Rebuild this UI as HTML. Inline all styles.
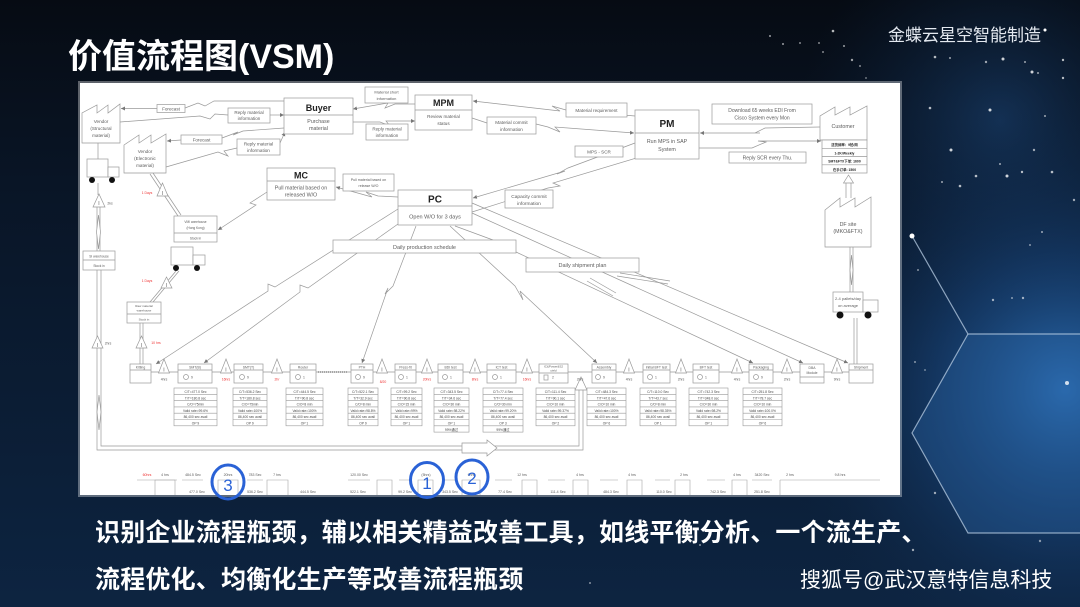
<!DOCTYPE html>
<html><head><meta charset="utf-8">
<style>
html,body{margin:0;padding:0;width:1080px;height:607px;overflow:hidden;background:#0b1a2e;}
svg{display:block}
.t{font-family:"Liberation Sans",sans-serif;fill:#5c5c5c;text-anchor:middle;}
.r{fill:#e33;}
</style></head><body>
<svg width="1080" height="607" viewBox="0 0 1080 607" xmlns="http://www.w3.org/2000/svg">
<defs>
 <linearGradient id="bg" x1="0" y1="0" x2="0" y2="1">
  <stop offset="0" stop-color="#060b13"/>
  <stop offset="0.3" stop-color="#091526"/>
  <stop offset="1" stop-color="#0d2441"/>
 </linearGradient>
 <radialGradient id="glow" cx="1065" cy="390" r="290" gradientUnits="userSpaceOnUse">
  <stop offset="0" stop-color="#2c70b8" stop-opacity="0.95"/>
  <stop offset="0.45" stop-color="#1a4a84" stop-opacity="0.55"/>
  <stop offset="1" stop-color="#0d2441" stop-opacity="0"/>
 </radialGradient>
 <radialGradient id="glow2" cx="1000" cy="120" r="200" gradientUnits="userSpaceOnUse">
  <stop offset="0" stop-color="#1b4577" stop-opacity="0.6"/>
  <stop offset="1" stop-color="#0d2441" stop-opacity="0"/>
 </radialGradient>
 <marker id="a" viewBox="0 0 6 6" refX="6" refY="3" markerWidth="4" markerHeight="4" orient="auto" markerUnits="userSpaceOnUse"><path d="M0,0 L6,3 L0,6 Z" fill="#777"/></marker>
</defs>
<rect width="1080" height="607" fill="url(#bg)"/>
<rect width="1080" height="607" fill="url(#glow2)"/>
<rect width="1080" height="607" fill="url(#glow)"/>

<!-- hexagon -->
<polygon points="968,334 1080,334 1080,533 968,533 912,433" fill="#2a64a3" fill-opacity="0.35"/>
<polyline points="912,236 968,334 1080,334" fill="none" stroke="#b8cde4" stroke-opacity="0.75" stroke-width="1.2"/>
<polyline points="968,334 912,433 968,533 1080,533" fill="none" stroke="#b8cde4" stroke-opacity="0.75" stroke-width="1.2"/>
<circle cx="912" cy="236" r="2.5" fill="#fff"/>

<!-- stars -->
<g fill="#fff">
<circle cx="770" cy="36" r="1" opacity=".6"/><circle cx="783" cy="44" r="1" opacity=".6"/><circle cx="800" cy="43" r="1" opacity=".5"/>
<circle cx="819" cy="43" r="1" opacity=".5"/><circle cx="833" cy="31" r="1.3" opacity=".7"/><circle cx="844" cy="46" r="1" opacity=".6"/>
<circle cx="823" cy="52" r="1" opacity=".5"/><circle cx="852" cy="60" r="1.2" opacity=".6"/><circle cx="860" cy="66" r="1" opacity=".5"/>
<circle cx="866" cy="78" r="1" opacity=".4"/><circle cx="1045" cy="30" r="1.3" opacity=".8"/><circle cx="935" cy="57" r="1.3" opacity=".7"/>
<circle cx="950" cy="58" r="1" opacity=".6"/><circle cx="986" cy="62" r="1.2" opacity=".6"/><circle cx="1003" cy="59" r="1.5" opacity=".8"/>
<circle cx="1025" cy="62" r="1" opacity=".6"/><circle cx="1063" cy="60" r="1.2" opacity=".7"/><circle cx="1032" cy="72" r="1.5" opacity=".8"/>
<circle cx="1063" cy="78" r="1.2" opacity=".7"/><circle cx="1038" cy="73" r="1" opacity=".6"/><circle cx="930" cy="108" r="1.3" opacity=".7"/>
<circle cx="990" cy="110" r="1.5" opacity=".8"/><circle cx="1045" cy="116" r="1" opacity=".6"/><circle cx="951" cy="150" r="1.5" opacity=".8"/>
<circle cx="1034" cy="150" r="1.2" opacity=".6"/><circle cx="976" cy="176" r="1.3" opacity=".7"/><circle cx="1007" cy="176" r="1.5" opacity=".8"/>
<circle cx="1022" cy="172" r="1.2" opacity=".7"/><circle cx="1000" cy="164" r="1" opacity=".6"/><circle cx="942" cy="182" r="1" opacity=".6"/>
<circle cx="960" cy="186" r="1.3" opacity=".7"/><circle cx="1052" cy="172" r="1.3" opacity=".7"/><circle cx="1074" cy="200" r="1.2" opacity=".6"/>
<circle cx="1042" cy="232" r="1" opacity=".6"/><circle cx="1030" cy="245" r="1" opacity=".5"/><circle cx="1023" cy="298" r="1.2" opacity=".6"/>
<circle cx="993" cy="300" r="1.2" opacity=".6"/><circle cx="1012" cy="298" r="1" opacity=".5"/><circle cx="1067" cy="383" r="2" opacity=".8"/>
<circle cx="918" cy="270" r="1" opacity=".5"/><circle cx="915" cy="362" r="1" opacity=".5"/><circle cx="925" cy="370" r="1" opacity=".4"/>
<circle cx="935" cy="493" r="1.2" opacity=".6"/><circle cx="1040" cy="541" r="1.2" opacity=".5"/><circle cx="913" cy="550" r="1.2" opacity=".6"/>
<circle cx="590" cy="583" r="1" opacity=".5"/><circle cx="700" cy="545" r="1" opacity=".5"/><circle cx="960" cy="590" r="1" opacity=".5"/>
</g>

<!-- headings -->
<text x="68" y="68" font-family="'Liberation Sans','Noto Sans CJK SC',sans-serif" font-size="34" font-weight="700" fill="#fff">价值流程图(VSM)</text>
<text x="888" y="41" font-family="'Liberation Sans','Noto Sans CJK SC',sans-serif" font-size="17" fill="#e4e9f0">金蝶云星空智能制造</text>
<circle cx="1045" cy="30" r="1.5" fill="#fff"/>

<!-- panel -->
<rect x="78" y="81" width="824" height="416" fill="#fff" opacity="0.35"/>
<rect x="80" y="83" width="820" height="412" fill="#fff"/>

<g stroke="#999" stroke-width="0.7" fill="none">
 <!-- top-left connectors -->
 <line x1="157" y1="108.5" x2="121" y2="108.5" marker-end="url(#a)"/>
 <polyline points="284,101 214,101 205,106 198,103 185,108"/>
 <polyline points="120,122 200,116 210,119 215,114 228,115"/>
 <line x1="270" y1="115" x2="284" y2="115" marker-end="url(#a)"/>
 <polyline points="415,104 395,104 385,108 388,103 353,109" marker-end="url(#a)"/>
 <polyline points="353,122 380,122 390,126 386,121 415,121" marker-end="url(#a)"/>
 <line x1="181" y1="140" x2="167" y2="141" marker-end="url(#a)"/>
 <polyline points="284,128 243,131 233,135 238,132 222,138"/>
 <polyline points="166,167 218,152 228,156 224,151 237,148"/>
 <line x1="280" y1="143" x2="285" y2="132" marker-end="url(#a)"/>
 <!-- MC / PC -->
 <polyline points="267,192 250,203 256,205 218,230" marker-end="url(#a)"/>
 <polyline points="398,197 378,196 366,192 372,197 336,187" marker-end="url(#a)"/>
 <!-- MPM - PM -->
 <polyline points="635,116 566,110 552,106 560,111 473,101" marker-end="url(#a)"/>
 <line x1="472" y1="118" x2="487" y2="123"/>
 <polyline points="536,124 548,127 560,132 555,127 634,133" marker-end="url(#a)"/>
 <polyline points="635,143 568,168 557,174 565,171 473,198" marker-end="url(#a)"/>
 <polyline points="472,212 548,188 560,186 553,183 643,156" marker-end="url(#a)"/>
 <!-- PM - customer -->
 <polyline points="820,127 765,128 755,133 760,133 700,133" marker-end="url(#a)"/>
 <polyline points="699,148 752,148 766,142 758,141 821,141" marker-end="url(#a)"/>
 <!-- DF to customer -->
 <line x1="846" y1="198" x2="846" y2="182"/><line x1="851" y1="198" x2="851" y2="182"/>
 <polygon points="848.5,175 843.5,183 853.5,183" fill="#fff"/>
 <line x1="850" y1="247" x2="850" y2="292"/><line x1="853" y1="247" x2="853" y2="292"/>
 <polygon points="851.5,255 853,270 851.5,285 850,270" fill="#fff"/>
 <line x1="854" y1="318" x2="854" y2="364"/><line x1="857" y1="318" x2="857" y2="364"/>

 <!-- PC fan lines -->
 <polyline points="398,209 275,287 268,284 268,291 156,364" marker-end="url(#a)"/>
 <polyline points="398,224 308,288 300,285 300,292 204,363" marker-end="url(#a)"/>
 <polyline points="416,226 393,286 385,294 388,288 362,363" marker-end="url(#a)"/>
 <polyline points="450,226 515,286 523,300 520,291 597,363" marker-end="url(#a)"/>
 <line x1="472" y1="203" x2="848" y2="363" marker-end="url(#a)"/>
 <line x1="472" y1="213" x2="803" y2="363" marker-end="url(#a)"/>
 <line x1="516" y1="252" x2="753" y2="363" marker-end="url(#a)"/>
 <line x1="455" y1="226" x2="493" y2="240"/>
 <polyline points="587,281 613,296"/><polyline points="590,278 616,293"/>
 <polyline points="617,276 668,284"/><polyline points="620,273 670,281"/>

 <!-- left vertical chain -->
 <line x1="98" y1="143" x2="98" y2="159"/>
 <line x1="98" y1="183" x2="98" y2="195"/>
 <line x1="97" y1="207" x2="97" y2="251"/><line x1="100" y1="207" x2="100" y2="251"/>
 <polygon points="98.5,215 100.5,232 98.5,249 96.5,232" fill="#fff"/>
 <!-- big loop -->
 <polyline points="97,270 97,450 583,450 583,390"/>
 <polyline points="101,270 101,446 579,446 579,390"/>
 <polygon points="99,395 101,412 99,430 97,412" fill="#fff"/>
 <polygon points="581,377 575,390 587,390" fill="#fff"/>
 <polygon points="462,443 487,443 487,440 497,448 487,456 487,453 462,453" fill="#fff"/>
 <!-- vendor2 to VMI -->
 <line x1="150" y1="174" x2="178" y2="216"/><line x1="153" y1="173" x2="181" y2="215"/>
 <line x1="176" y1="271" x2="150" y2="302"/><line x1="179" y1="271" x2="153" y2="302"/>
 <line x1="140" y1="323" x2="140" y2="364"/><line x1="143" y1="323" x2="143" y2="364"/>

 <!-- process flow line -->
 <line x1="151" y1="372" x2="849" y2="372"/>
</g>

<!-- boxes top-left -->
<g stroke="#999" stroke-width="0.7" fill="#fff">
 <path d="M82,143V113L97,105V113L108,105V113L120,104V143Z"/>
 <rect x="157" y="104.5" width="28" height="8"/>
 <rect x="228" y="108" width="42" height="15"/>
 <rect x="284" y="98" width="69" height="36"/><line x1="284" y1="115" x2="353" y2="115"/>
 <rect x="365" y="87" width="43" height="16"/>
 <rect x="366" y="124" width="42" height="16"/>
 <rect x="415" y="95" width="57" height="35"/><line x1="415" y1="110" x2="472" y2="110"/>
 <path d="M124,173V145L139,135V143L151,135V143L166,134V173Z"/>
 <rect x="181" y="135" width="41" height="9"/>
 <rect x="237" y="139" width="43" height="16"/>
 <rect x="87" y="159" width="21" height="18"/><rect x="108" y="167" width="11" height="10"/>
 <polygon points="99,194 93,207 105,207"/>
 <rect x="83" y="251" width="32" height="19"/><line x1="83" y1="260" x2="115" y2="260"/>
 <polygon points="97.5,336 92,348 103,348"/>
 <polygon points="162.5,183 157,196 168,196"/>
 <rect x="174" y="216" width="43" height="26"/><line x1="174" y1="233" x2="217" y2="233"/>
 <rect x="171" y="247" width="22" height="18"/><rect x="193" y="255" width="12" height="10"/>
 <polygon points="166.5,277 161,288 172,288"/>
 <rect x="127" y="302" width="34" height="21"/><line x1="127" y1="314" x2="161" y2="314"/>
 <polygon points="141.5,336 136,348 147,348"/>
 <rect x="267" y="168" width="68" height="32"/><line x1="267" y1="181" x2="335" y2="181"/>
 <rect x="343" y="174" width="51" height="17"/>
 <rect x="398" y="190" width="74" height="35"/><line x1="398" y1="206" x2="472" y2="206"/>
 <rect x="333" y="240" width="183" height="13"/>
 <rect x="526" y="258" width="113" height="14"/>
 <rect x="505" y="190" width="48" height="18"/>
 <rect x="566" y="103" width="61" height="14"/>
 <rect x="487" y="117" width="49" height="17"/>
 <rect x="635" y="110" width="64" height="49"/><line x1="635" y1="133" x2="699" y2="133"/>
 <rect x="575" y="146" width="48" height="11"/>
 <rect x="712" y="104" width="100" height="20"/>
 <rect x="729" y="152" width="77" height="11"/>
 <path d="M820,140V116L835,107V115L850,107V115L867,106V140Z"/>
 <rect x="822" y="140" width="45" height="33"/>
 <line x1="822" y1="148.3" x2="867" y2="148.3"/><line x1="822" y1="156.5" x2="867" y2="156.5"/><line x1="822" y1="164.8" x2="867" y2="164.8"/>
 <path d="M825,247V210L840,198V207L855,198V207L871,197V247Z"/>
 <rect x="833" y="292" width="30" height="20"/><rect x="863" y="300" width="15" height="12"/>
</g>
<g fill="#111">
 <circle cx="92" cy="180" r="3"/><circle cx="112" cy="180" r="3"/>
 <circle cx="176" cy="268" r="3"/><circle cx="197" cy="268" r="3"/>
 <circle cx="840" cy="315" r="3.5"/><circle cx="868" cy="315" r="3.5"/>
</g>

<!-- top texts -->
<g class="t" font-size="4.6">
 <text x="101" y="123">Vendor</text><text x="101" y="130">(Structural</text><text x="101" y="137">material)</text>
 <text x="171" y="110.5">Forecast</text>
 <text x="249" y="114">Reply material</text><text x="249" y="120">information</text>
 <text x="386.5" y="93.5" font-size="4">Material short</text><text x="386.5" y="100" font-size="4">information</text>
 <text x="387" y="130.5">Reply material</text><text x="387" y="137">information</text>
 <text x="145" y="153">Vendor</text><text x="145" y="160">(Electronic</text><text x="145" y="167">material)</text>
 <text x="201.5" y="141.5">Forecast</text>
 <text x="258.5" y="145.5">Reply material</text><text x="258.5" y="152">information</text>
 <text x="99" y="257.5" font-size="3.2">SI warehouse</text><text x="99" y="267" font-size="3.2">Stock in</text>
 <text x="195.5" y="223" font-size="3.2">VMI warehouse</text><text x="195.5" y="229" font-size="3.2">(Hong Kong)</text><text x="195.5" y="239.5" font-size="3.2">Stock in</text>
 <text x="144" y="307" font-size="3">Raw material</text><text x="144" y="311.5" font-size="3">warehouse</text><text x="144" y="320.5" font-size="3">Stock in</text>
 <text x="368.5" y="181" font-size="3.6">Pull material based on</text><text x="368.5" y="187" font-size="3.6">release W/O</text>
 <text x="301" y="189.5" font-size="5.3">Pull material based on</text><text x="301" y="196.5" font-size="5.3">released W/O</text>
 <text x="435" y="218.5" font-size="5.5">Open W/O for 3 days</text>
 <text x="424.5" y="249" font-size="5.5">Daily production schedule</text>
 <text x="582.5" y="267" font-size="5.5">Daily shipment plan</text>
 <text x="529" y="198" font-size="4.8">Capacity commit</text><text x="529" y="205" font-size="4.8">information</text>
 <text x="596.5" y="112">Material requirement</text>
 <text x="511.5" y="124">Material commit</text><text x="511.5" y="131">information</text>
 <text x="443.5" y="118">Review material</text><text x="443.5" y="125">status</text>
 <text x="318.5" y="123" font-size="5.3">Purchase</text><text x="318.5" y="130" font-size="5.3">material</text>
 <text x="667" y="143" font-size="5.3">Run MPS in SAP</text><text x="667" y="151" font-size="5.3">System</text>
 <text x="599" y="153.5">MPS - SCR</text>
 <text x="762" y="112" font-size="5">Download 65 weeks EDI From</text><text x="762" y="119.5" font-size="5">Cisco System every Mon</text>
 <text x="767.5" y="159.5" font-size="5">Reply SCR every Thu.</text>
 <text x="843" y="128" font-size="5.3">Customer</text>
 <text x="848" y="226" font-size="5.3">DF site</text><text x="848" y="233" font-size="5.3">(MKO&amp;FTX)</text>
 <text x="848" y="300" font-size="4">2-4 pallets/day</text><text x="848" y="307" font-size="4">on average</text>
 <text x="110" y="204.5" font-size="3.4">2ks</text>
 <text x="108" y="344.5" font-size="3.4">2hrs</text>
 <text x="147" y="194" font-size="3.4" class="t r">1 Days</text>
 <text x="147" y="282" font-size="3.4" class="t r">1 Days</text>
 <text x="156" y="344" font-size="3.4" class="t r">10 hrs</text>
</g>
<g class="t" font-size="3.4" font-weight="700" style="fill:#222;font-family:'Liberation Sans','Noto Sans CJK SC',sans-serif">
 <text x="844.5" y="146">送货频率：9拍/周</text>
 <text x="844.5" y="154.3">1-2K/Weekly</text>
 <text x="844.5" y="162.5">SMT&amp;FTX下单: 1600</text>
 <text x="844.5" y="170.8">在手订单: 1500</text>
</g>
<g class="t" font-weight="700" style="fill:#222">
 <text x="318.5" y="111" font-size="9">Buyer</text>
 <text x="443.5" y="106" font-size="9">MPM</text>
 <text x="301" y="178.5" font-size="9">MC</text>
 <text x="435" y="202.5" font-size="10">PC</text>
 <text x="667" y="127" font-size="10">PM</text>
</g>
<g class="t" font-size="5"><text x="99" y="205">I</text><text x="97.5" y="347">I</text><text x="162.5" y="195">I</text><text x="166.5" y="287">I</text><text x="141.5" y="347">I</text></g>

<!-- process boxes -->
<g stroke="#999" stroke-width="0.7" fill="#fff">
 <rect x="130" y="364" width="21" height="19"/><line x1="130" y1="370" x2="151" y2="370"/>
 <rect x="178" y="364" width="34" height="19"/><line x1="178" y1="370" x2="212" y2="370"/>
 <rect x="234" y="364" width="29" height="19"/><line x1="234" y1="370" x2="263" y2="370"/>
 <rect x="290" y="364" width="26" height="19"/><line x1="290" y1="370" x2="316" y2="370"/>
 <rect x="351" y="364" width="22" height="19"/><line x1="351" y1="370" x2="373" y2="370"/>
 <rect x="395" y="364" width="21" height="19"/><line x1="395" y1="370" x2="416" y2="370"/>
 <rect x="438" y="364" width="25" height="19"/><line x1="438" y1="370" x2="463" y2="370"/>
 <rect x="487" y="364" width="29" height="19"/><line x1="487" y1="370" x2="516" y2="370"/>
 <rect x="539" y="364" width="29" height="19"/><line x1="539" y1="373" x2="568" y2="373"/>
 <rect x="592" y="364" width="24" height="19"/><line x1="592" y1="370" x2="616" y2="370"/>
 <rect x="643" y="364" width="27" height="19"/><line x1="643" y1="370" x2="670" y2="370"/>
 <rect x="693" y="364" width="26" height="19"/><line x1="693" y1="370" x2="719" y2="370"/>
 <rect x="749" y="364" width="24" height="19"/><line x1="749" y1="370" x2="773" y2="370"/>
 <rect x="800" y="364" width="24" height="19"/><line x1="800" y1="377" x2="824" y2="377"/>
 <rect x="849" y="364" width="24" height="19"/><line x1="849" y1="370" x2="873" y2="370"/>
 <circle cx="186" cy="377" r="2.5"/><circle cx="242" cy="377" r="2.5"/><circle cx="298" cy="377" r="2.5"/>
 <circle cx="358" cy="377" r="2.5"/><circle cx="401" cy="377" r="2.5"/><circle cx="445" cy="377" r="2.5"/>
 <circle cx="495" cy="377" r="2.5"/><rect x="544" y="375" width="4" height="5"/><circle cx="598" cy="377" r="2.5"/>
 <circle cx="650" cy="377" r="2.5"/><circle cx="700" cy="377" r="2.5"/><circle cx="756" cy="377" r="2.5"/>
 <polygon points="164,359 158.5,373 169.5,373"/><polygon points="226,359 220.5,373 231.5,373"/>
 <polygon points="277,359 271.5,373 282.5,373"/><polygon points="382,359 376.5,373 387.5,373"/>
 <polygon points="427,359 421.5,373 432.5,373"/><polygon points="475,359 469.5,373 480.5,373"/>
 <polygon points="527,359 521.5,373 532.5,373"/><polygon points="629,359 623.5,373 634.5,373"/>
 <polygon points="681,359 675.5,373 686.5,373"/><polygon points="737,359 731.5,373 742.5,373"/>
 <polygon points="787,359 781.5,373 792.5,373"/><polygon points="837,359 831.5,373 842.5,373"/>
</g>
<line x1="318" y1="372" x2="348" y2="372" stroke="#888" stroke-width="1.5" stroke-dasharray="1,1"/>
<g class="t" font-size="3.4">
 <text x="140.5" y="368.5">Kitting</text><text x="195" y="368.5">SMT(B)</text><text x="248.5" y="368.5">SMT(T)</text>
 <text x="303" y="368.5">Router</text><text x="362" y="368.5">PTH</text><text x="405.5" y="368.5">Press-fit</text>
 <text x="450.5" y="368.5">BDI test</text><text x="501.5" y="368.5">ICT test</text>
 <text x="553.5" y="367.5" font-size="3">IC&amp;Power&amp;S2</text><text x="553.5" y="371.5" font-size="3">yield</text>
 <text x="604" y="368.5">Assembly</text><text x="656.5" y="368.5">Initial BFT test</text><text x="706" y="368.5">BFT test</text>
 <text x="761" y="368.5">Packaging</text><text x="812" y="369">DBA</text><text x="812" y="374">Module</text><text x="861" y="368.5">Shipment</text>
 <text x="192" y="378.5">9</text><text x="248" y="378.5">9</text><text x="304" y="378.5">1</text><text x="364" y="378.5">9</text>
 <text x="407" y="378.5">1</text><text x="451" y="378.5">1</text><text x="501" y="378.5">1</text><text x="553" y="378.5">2</text>
 <text x="604" y="378.5">9</text><text x="656" y="378.5">1</text><text x="706" y="378.5">1</text><text x="762" y="378.5">9</text>
 <text x="164" y="371.5" font-size="5">I</text><text x="226" y="371.5" font-size="5">I</text><text x="277" y="371.5" font-size="5">I</text>
 <text x="382" y="371.5" font-size="5">I</text><text x="427" y="371.5" font-size="5">I</text><text x="475" y="371.5" font-size="5">I</text>
 <text x="527" y="371.5" font-size="5">I</text><text x="629" y="371.5" font-size="5">I</text><text x="681" y="371.5" font-size="5">I</text>
 <text x="737" y="371.5" font-size="5">I</text><text x="787" y="371.5" font-size="5">I</text><text x="837" y="371.5" font-size="5">I</text>
 <text x="164" y="380.5">4hrs</text><text x="226" y="380.5" class="t r">16hrs</text><text x="277" y="380.5" class="t r">2hr</text>
 <text x="383" y="383" class="t r">8/20</text><text x="427" y="380.5" class="t r">20hrs</text><text x="475" y="380.5" class="t r">8hrs</text>
 <text x="527" y="380.5" class="t r">16hrs</text><text x="580" y="380.5">2hrs</text><text x="629" y="380.5">4hrs</text>
 <text x="681" y="380.5">2hrs</text><text x="737" y="380.5">4hrs</text><text x="787" y="380.5">2hrs</text><text x="837" y="380.5">9hrs</text>
</g>

<!-- data boxes -->
<g stroke="#999" stroke-width="0.6" fill="#fff">
 <rect x="174" y="388" width="43" height="37.8"/><path d="M174,394.3H217M174,400.6H217M174,406.9H217M174,413.2H217M174,419.5H217"/>
 <rect x="233" y="388" width="34" height="37.8"/><path d="M233,394.3H267M233,400.6H267M233,406.9H267M233,413.2H267M233,419.5H267"/>
 <rect x="286" y="388" width="37" height="37.8"/><path d="M286,394.3H323M286,400.6H323M286,406.9H323M286,413.2H323M286,419.5H323"/>
 <rect x="348" y="388" width="30" height="37.8"/><path d="M348,394.3H378M348,400.6H378M348,406.9H378M348,413.2H378M348,419.5H378"/>
 <rect x="391" y="388" width="31" height="37.8"/><path d="M391,394.3H422M391,400.6H422M391,406.9H422M391,413.2H422M391,419.5H422"/>
 <rect x="434" y="388" width="35" height="44.1"/><path d="M434,394.3H469M434,400.6H469M434,406.9H469M434,413.2H469M434,419.5H469M434,425.8H469"/>
 <rect x="483" y="388" width="40" height="44.1"/><path d="M483,394.3H523M483,400.6H523M483,406.9H523M483,413.2H523M483,419.5H523M483,425.8H523"/>
 <rect x="536" y="388" width="39" height="37.8"/><path d="M536,394.3H575M536,400.6H575M536,406.9H575M536,413.2H575M536,419.5H575"/>
 <rect x="587" y="388" width="39" height="37.8"/><path d="M587,394.3H626M587,400.6H626M587,406.9H626M587,413.2H626M587,419.5H626"/>
 <rect x="640" y="388" width="36" height="37.8"/><path d="M640,394.3H676M640,400.6H676M640,406.9H676M640,413.2H676M640,419.5H676"/>
 <rect x="689" y="388" width="39" height="37.8"/><path d="M689,394.3H728M689,400.6H728M689,406.9H728M689,413.2H728M689,419.5H728"/>
 <rect x="743" y="388" width="39" height="37.8"/><path d="M743,394.3H782M743,400.6H782M743,406.9H782M743,413.2H782M743,419.5H782"/>
</g>
<g class="t" font-size="3.3" style="fill:#4a4a4a;font-family:'Liberation Sans','Noto Sans CJK SC',sans-serif">
 <text x="195.5" y="393">C/T=477.0 Sec</text><text x="195.5" y="399.3">T/T=180.8 sec</text><text x="195.5" y="405.6">C/O=75min</text><text x="195.5" y="411.9">Valid rate=99.6%</text><text x="195.5" y="418.2">86,400 sec avail</text><text x="195.5" y="424.5">OP 9</text>
 <text x="250" y="393">C/T=536.2 Sec</text><text x="250" y="399.3">T/T=180.8 sec</text><text x="250" y="405.6">C/O=75min</text><text x="250" y="411.9">Valid rate=100%</text><text x="250" y="418.2">86,400 sec avail</text><text x="250" y="424.5">OP 9</text>
 <text x="304.5" y="393">C/T=444.5 Sec</text><text x="304.5" y="399.3">T/T=90.8 sec</text><text x="304.5" y="405.6">C/O=8 min</text><text x="304.5" y="411.9">Valid rate=100%</text><text x="304.5" y="418.2">86,400 sec avail</text><text x="304.5" y="424.5">OP 1</text>
 <text x="363" y="393">C/T=522.1 Sec</text><text x="363" y="399.3">T/T=32.9 sec</text><text x="363" y="405.6">C/O=8 min</text><text x="363" y="411.9">Valid rate=98.8%</text><text x="363" y="418.2">86,400 sec avail</text><text x="363" y="424.5">OP 9</text>
 <text x="406.5" y="393">C/T=99.2 Sec</text><text x="406.5" y="399.3">T/T=90.8 sec</text><text x="406.5" y="405.6">C/O=15 min</text><text x="406.5" y="411.9">Valid rate=99%</text><text x="406.5" y="418.2">86,400 sec avail</text><text x="406.5" y="424.5">OP 1</text>
 <text x="451.5" y="393">C/T=343.5 Sec</text><text x="451.5" y="399.3">T/T=34.6 sec</text><text x="451.5" y="405.6">C/O=30 min</text><text x="451.5" y="411.9">Valid rate=98.22%</text><text x="451.5" y="418.2">86,400 sec avail</text><text x="451.5" y="424.5">OP 1</text><text x="451.5" y="430.8">99%通过</text>
 <text x="503" y="393">C/T=77.4 Sec</text><text x="503" y="399.3">T/T=77.4 sec</text><text x="503" y="405.6">C/O=30 min</text><text x="503" y="411.9">Valid rate=99.20%</text><text x="503" y="418.2">86,400 sec avail</text><text x="503" y="424.5">OP 3</text><text x="503" y="430.8">99%通过</text>
 <text x="555.5" y="393">C/T=111.4 Sec</text><text x="555.5" y="399.3">T/T=90.1 sec</text><text x="555.5" y="405.6">C/O=10 min</text><text x="555.5" y="411.9">Valid rate=99.37%</text><text x="555.5" y="418.2">86,400 sec avail</text><text x="555.5" y="424.5">OP 2</text>
 <text x="606.5" y="393">C/T=484.3 Sec</text><text x="606.5" y="399.3">T/T=47.6 sec</text><text x="606.5" y="405.6">C/O=10 min</text><text x="606.5" y="411.9">Valid rate=100%</text><text x="606.5" y="418.2">86,400 sec avail</text><text x="606.5" y="424.5">OP 6</text>
 <text x="658" y="393">C/T=110.0 Sec</text><text x="658" y="399.3">T/T=43.7 sec</text><text x="658" y="405.6">C/O=8 min</text><text x="658" y="411.9">Valid rate=98.35%</text><text x="658" y="418.2">86,400 sec avail</text><text x="658" y="424.5">OP 1</text>
 <text x="708.5" y="393">C/T=742.3 Sec</text><text x="708.5" y="399.3">T/T=348.0 sec</text><text x="708.5" y="405.6">C/O=30 min</text><text x="708.5" y="411.9">Valid rate=98.2%</text><text x="708.5" y="418.2">86,400 sec avail</text><text x="708.5" y="424.5">OP 1</text>
 <text x="762.5" y="393">C/T=251.8 Sec</text><text x="762.5" y="399.3">T/T=78.7 sec</text><text x="762.5" y="405.6">C/O=10 min</text><text x="762.5" y="411.9">Valid rate=100.0%</text><text x="762.5" y="418.2">86,400 sec avail</text><text x="762.5" y="424.5">OP 6</text>
</g>

<!-- timeline -->
<g stroke="#a5a5a5" stroke-width="0.6" fill="none">
 <path d="M137,480H177M182,480H203M247,480H263M348,480H370M399,480H412M443,480H456M495,480H512M548,480H565M600,480H618M655,480H670M707,480H725M752,480H772M780,480H880"/>
 <path d="M155,495V480H175V495M218,495V480H238V495M267,495V480H288V495M377,495V480H392V495M418,495V480H433V495M462,495V480H480V495M522,495V480H537V495M573,495V480H588V495M627,495V480H642V495M675,495V480H690V495M732,495V480H747V495M780,495V480"/>
</g>
<g class="t" font-size="3.5">
 <text x="147" y="476" class="t r">60hrs</text><text x="165" y="476">4 hrs</text><text x="193" y="476">484.5 Sec</text>
 <text x="228" y="476">20hrs</text><text x="255" y="476">783 Sec</text><text x="277" y="476">7 hrs</text><text x="359" y="476">120.00 Sec</text>
 <text x="426" y="476">(5hrs)</text><text x="471" y="476">9hrs</text><text x="522" y="476">12 hrs</text><text x="580" y="476">4 hrs</text>
 <text x="632" y="476">4 hrs</text><text x="684" y="476">2 hrs</text><text x="737" y="476">4 hrs</text><text x="762" y="476">3420 Sec</text>
 <text x="790" y="476">2 hrs</text><text x="840" y="476">9.8 hrs</text>
 <text x="197" y="493">477.0 Sec</text><text x="255" y="493">536.2 Sec</text><text x="308" y="493">444.5 Sec</text>
 <text x="358" y="493">522.1 Sec</text><text x="405" y="493">99.2 Sec</text><text x="450" y="493">343.5 Sec</text>
 <text x="505" y="493">77.4 Sec</text><text x="558" y="493">111.4 Sec</text><text x="611" y="493">484.3 Sec</text>
 <text x="664" y="493">110.0 Sec</text><text x="718" y="493">742.3 Sec</text><text x="762" y="493">251.8 Sec</text>
</g>

<!-- blue circles -->
<g fill="none" stroke="#2a62d6" stroke-width="3">
 <ellipse cx="228" cy="482" rx="16" ry="17"/>
 <ellipse cx="427" cy="480" rx="16.5" ry="17.5"/>
 <ellipse cx="472" cy="477" rx="16" ry="17"/>
</g>
<g font-family="'Liberation Sans',sans-serif" font-size="17" fill="#2a62d6" text-anchor="middle">
 <text x="228" y="491">3</text><text x="427" y="489">1</text><text x="472" y="484">2</text>
</g>

<!-- bottom text -->
<g font-family="'Liberation Sans','Noto Sans CJK SC',sans-serif" fill="#fff">
 <text x="95" y="541" font-size="25" font-weight="700" letter-spacing="0.2">识别企业流程瓶颈，辅以相关精益改善工具，如线平衡分析、一个流生产、</text>
 <text x="95" y="588" font-size="25" font-weight="700" letter-spacing="0.2">流程优化、均衡化生产等改善流程瓶颈</text>
 <text x="800" y="587" font-size="21">搜狐号@武汉意特信息科技</text>
</g>
</svg>
</body></html>
